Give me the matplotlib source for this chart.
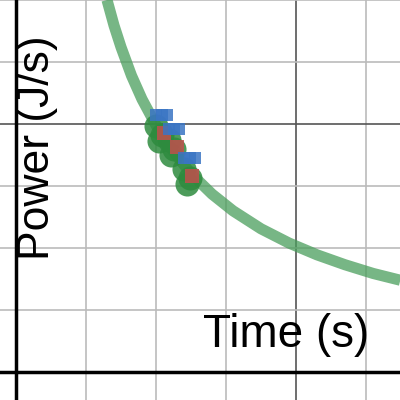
import matplotlib
matplotlib.use("Agg")
import matplotlib.pyplot as plt

# curve (time in s, power in J/s)
time_s = [1.30, 1.40, 1.50, 1.65, 1.80, 2.00, 2.25, 2.50, 2.80, 3.10, 3.50, 3.90, 4.30, 4.70, 5.10, 5.49]
power = [6.00, 5.59, 5.24, 4.78, 4.40, 3.98, 3.55, 3.20, 2.87, 2.60, 2.31, 2.08, 1.89, 1.73, 1.59, 1.48]

# measured points (three overlapping markers per sample)
pt_time = [2.00, 2.18, 2.40]
pt_power = [3.97, 3.75, 3.28]

fig = plt.figure(figsize=(4, 4), dpi=100)
ax = fig.add_axes([0, 0, 1, 1])
ax.set_xlim(-16 / 70, 384 / 70)
ax.set_ylim(-28 / 62, 372 / 62)

for gx in range(-1, 7):
    c = "#555555" if gx == 4 else "#bbbbbb"
    ax.axvline(gx, color=c, lw=1.2, zorder=0)
for gy in range(-1, 7):
    c = "#555555" if gy == 4 else "#bbbbbb"
    ax.axhline(gy, color=c, lw=1.2, zorder=0)
ax.axvline(0, color="black", lw=2.5, zorder=1)
ax.axhline(0, color="black", lw=2.5, zorder=1)

ax.plot(time_s, power, color="#4a9e5c", lw=8, alpha=0.75, solid_capstyle="butt", zorder=2)

for dx, dy in [(0, 0), (0.08, -0.15), (0.04, -0.25)]:
    ax.scatter([t + dx for t in pt_time], [p + dy for p in pt_power], s=300,
               color="#2e8b3e", alpha=0.85, zorder=3, linewidths=0)
ax.scatter([t + 0.12 for t in pt_time], [p - 0.12 for p in pt_power], s=110,
           marker="s", color="#c0504d", alpha=0.85, zorder=4, linewidths=0)
for dx in (0.0, 0.08, 0.15):
    ax.scatter([t + dx for t in pt_time], [p + 0.17 for p in pt_power], s=80,
               marker="s", color="#3a75c4", alpha=0.85, zorder=5, linewidths=0)

ax.text(0.31, 3.61, "Power (J/s)", rotation=90, fontsize=32, family="Liberation Sans",
        ha="center", va="center")
ax.text(3.86, 0.6, "Time (s)", fontsize=33, family="Liberation Sans", ha="center", va="center")

ax.set_xticks([])
ax.set_yticks([])
for s in ax.spines.values():
    s.set_visible(False)

fig.savefig("out.png", dpi=100)
